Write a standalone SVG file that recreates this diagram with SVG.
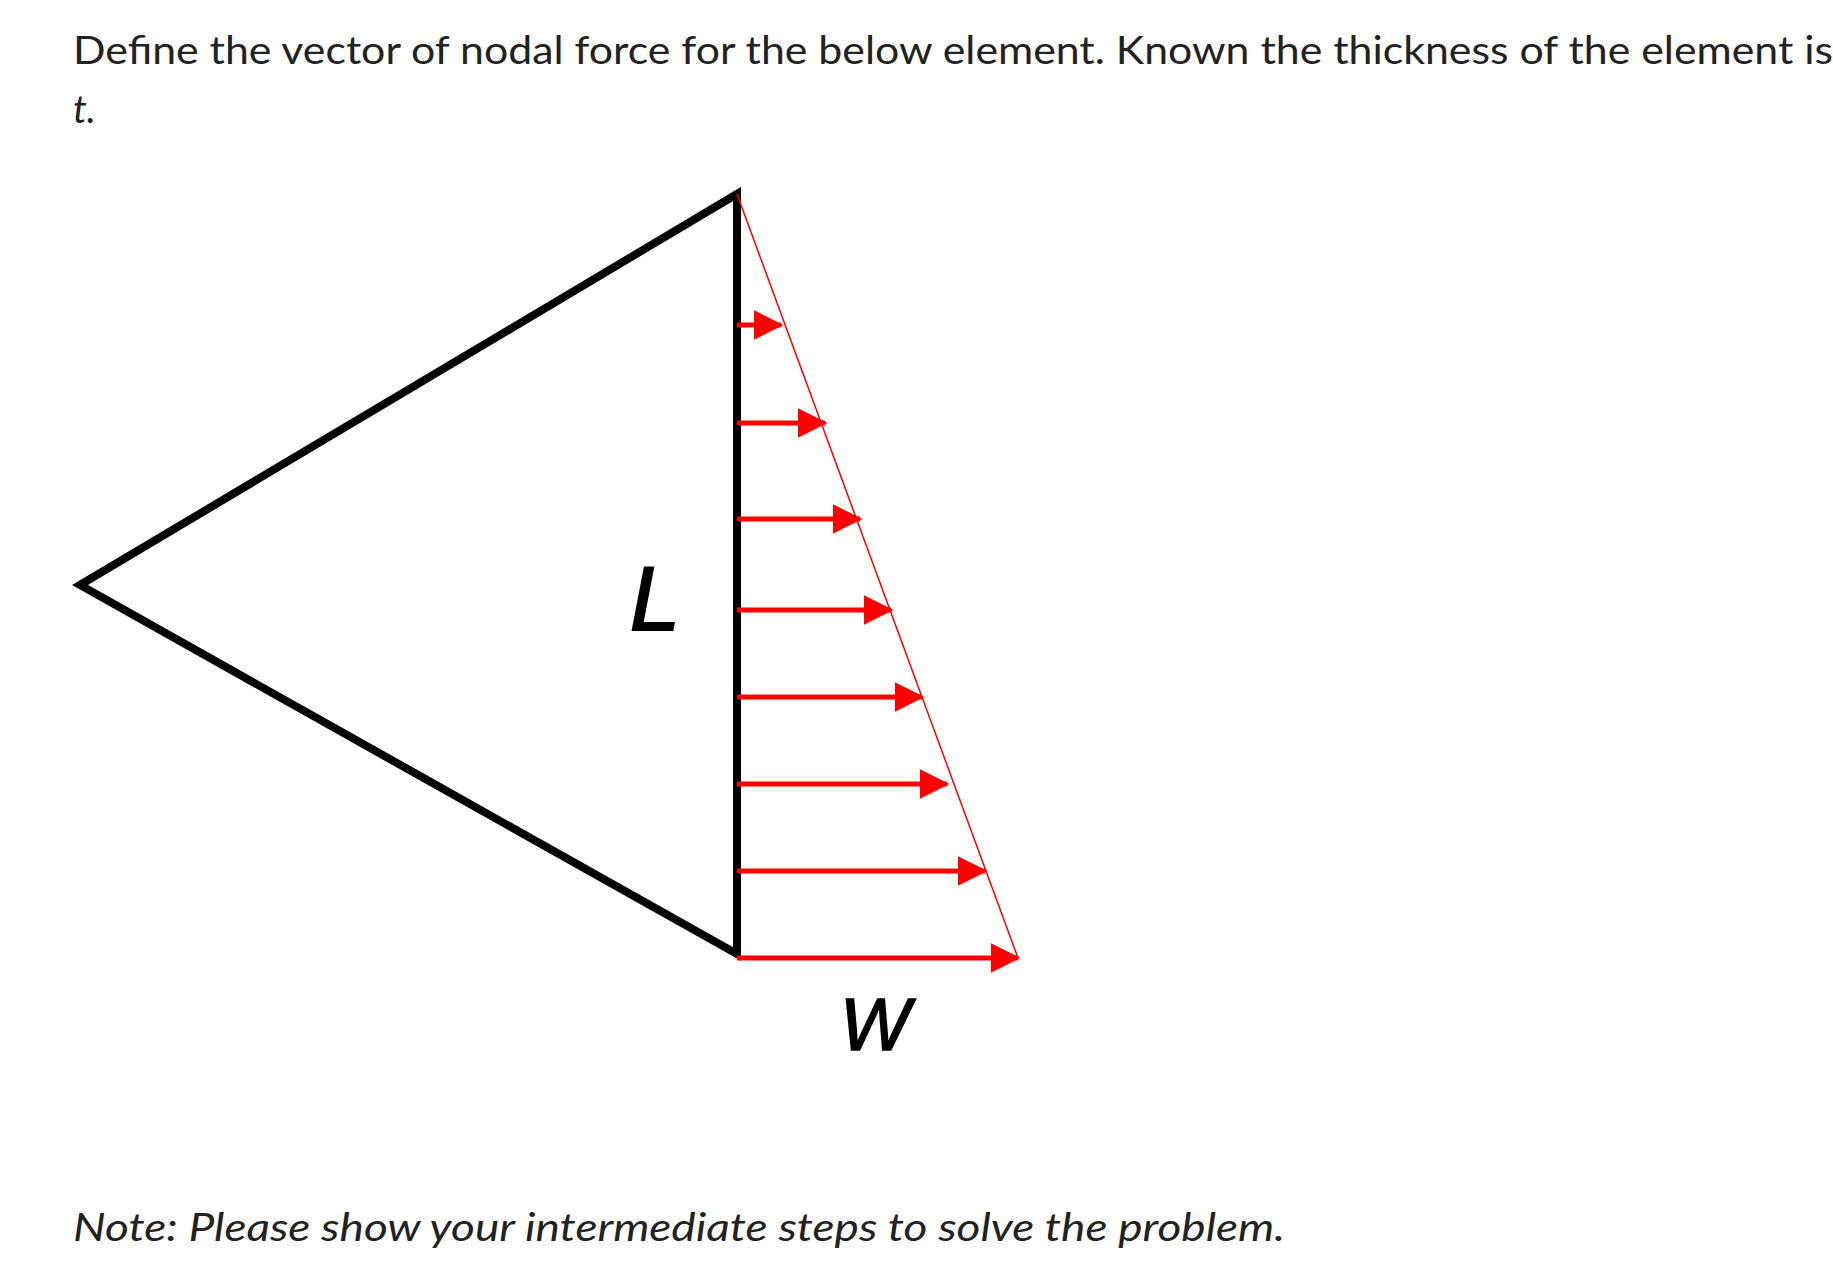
<svg xmlns="http://www.w3.org/2000/svg" width="1833" height="1271" viewBox="0 0 1833 1271">
<style>
.t{font-family:Lato,"Liberation Sans",sans-serif;font-size:39px;fill:#222}
.lbl{font-family:"Liberation Sans",Arial,sans-serif;font-style:italic;fill:#000}
.ar{stroke:#f00;stroke-width:5;fill:none}
</style>
<defs><marker id="ah" markerWidth="6" markerHeight="6" refX="5.5" refY="3" orient="auto" markerUnits="strokeWidth"><path d="M0,0L6,3L0,6z" fill="#f00"/></marker></defs>
<rect width="1833" height="1271" fill="#fff"/>
<text class="t" x="73" y="64" textLength="1760" lengthAdjust="spacingAndGlyphs">Define the vector of nodal force for the below element. Known the thickness of the element is</text>
<text class="t" x="73" y="123" font-style="italic">t.</text>
<g id="element"><polygon points="737,194 80,585 737,954" fill="none" stroke="#000" stroke-width="8" stroke-linejoin="miter"/></g>
<g id="load"><line x1="737" y1="194" x2="1018" y2="958" stroke="#f00" stroke-width="1.5"/></g>
<g id="connectors">
<line class="ar" marker-end="url(#ah)" x1="737" y1="325" x2="781" y2="325"/>
<line class="ar" marker-end="url(#ah)" x1="737" y1="423" x2="825" y2="423"/>
<line class="ar" marker-end="url(#ah)" x1="737" y1="519" x2="860" y2="519"/>
<line class="ar" marker-end="url(#ah)" x1="737" y1="610" x2="891" y2="610"/>
<line class="ar" marker-end="url(#ah)" x1="737" y1="697" x2="922" y2="697"/>
<line class="ar" marker-end="url(#ah)" x1="737" y1="784" x2="947" y2="784"/>
<line class="ar" marker-end="url(#ah)" x1="737" y1="871" x2="985" y2="871"/>
<line class="ar" marker-end="url(#ah)" x1="737" y1="958" x2="1018" y2="958"/>
</g>
<g id="L"><text class="lbl" x="630" y="630" font-size="90" stroke="#000" stroke-width="2">L</text></g>
<g id="W"><text class="lbl" x="840" y="1050" font-size="74" stroke="#000" stroke-width="1.5">W</text></g>
<text class="t" x="73" y="1241" font-style="italic" textLength="1212" lengthAdjust="spacingAndGlyphs">Note: Please show your intermediate steps to solve the problem.</text>
</svg>
